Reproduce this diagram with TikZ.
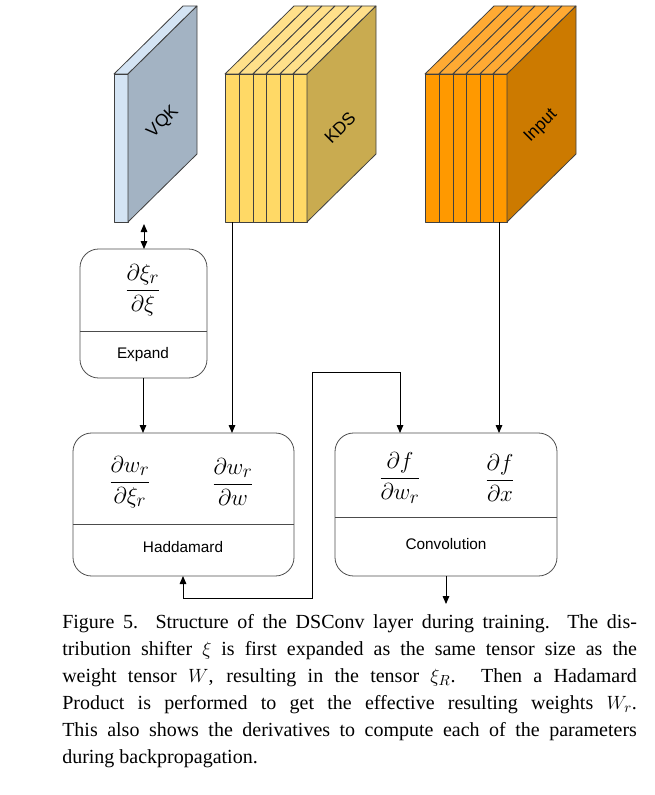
\documentclass[tikz,border=0pt]{standalone}
\usepackage{fontspec}
\setmainfont{Liberation Serif}
\newfontfamily\arialf{Liberation Sans}
\usetikzlibrary{arrows.meta}
\definecolor{vqkfront}{HTML}{D4E4F4}
\definecolor{vqkside}{HTML}{A3B3C3}
\definecolor{kdsfront}{HTML}{FFD966}
\definecolor{kdsside}{HTML}{C9AB50}
\definecolor{kdstop}{HTML}{FFE08A}
\definecolor{inpfront}{HTML}{FF9900}
\definecolor{inpside}{HTML}{CC7A00}
\definecolor{inptop}{HTML}{FFAA33}
\begin{document}
\begin{tikzpicture}[x=0.75pt,y=-0.75pt,
  face/.style={draw=black!75,line width=0.6pt,line join=round},
  box/.style={draw=black!70,line width=0.6pt,rounded corners=14pt},
  lbl/.style={font=\arialf\fontsize{11.5}{13}\selectfont},
  math/.style={font=\fontsize{19}{23}\selectfont},
  arr/.style={-{Triangle[length=6pt,width=5pt]},line width=0.7pt},
  tens/.style={font=\arialf\fontsize{13}{15}\selectfont,rotate=45,inner sep=0pt}]
\useasboundingbox (0,0) rectangle (655,795);
% VQK
\filldraw[face,fill=vqkfront] (114,74) rectangle (128,222);
\filldraw[face,fill=vqkfront] (114,74) -- (128,74) -- (197,6) -- (183,6) -- cycle;
\filldraw[face,fill=vqkside] (128,74) -- (197,6) -- (197,154) -- (128,222) -- cycle;
\node[tens] (vqk) at (163,122) {VQK};
% KDS
\foreach \a/\b in {225/239,239/253,253/266,266/280,280/293,293/307}{
  \filldraw[face,fill=kdsfront] (\a,74) rectangle (\b,222);
  \filldraw[face,fill=kdstop] (\a,74) -- (\b,74) -- (\b+69,6) -- (\a+69,6) -- cycle;}
\filldraw[face,fill=kdsside] (307,74) -- (376,6) -- (376,154) -- (307,222) -- cycle;
\node[tens] (kds) at (340,128) {KDS};
% Input
\foreach \a/\b in {425/439,439/453,453/466,466/480,480/493,493/507}{
  \filldraw[face,fill=inpfront] (\a,74) rectangle (\b,222);
  \filldraw[face,fill=inptop] (\a,74) -- (\b,74) -- (\b+69,6) -- (\a+69,6) -- cycle;}
\filldraw[face,fill=inpside] (507,74) -- (576,6) -- (576,154) -- (507,222) -- cycle;
\node[tens] (inp) at (541,126) {Input};
\coordinate (vqkb) at (144,224);
\coordinate (kdsb) at (232,222);
\coordinate (inpb) at (499,222);
% Expand
\draw[box] (80,249) rectangle (207,378);
\draw[black!70,line width=0.6pt] (80,331) -- (207,331);
\node[math] (fe) at (143,290) {$\displaystyle\frac{\partial\xi_r}{\partial\xi}$};
\node[lbl] (exp) at (143,355) {Expand};
\coordinate (expt) at (144,249);
\coordinate (expb) at (143,378);
% Haddamard
\draw[box] (73,433) rectangle (294,576);
\draw[black!70,line width=0.6pt] (73,524) -- (294,524);
\node[math] (h1) at (130,482) {$\displaystyle\frac{\partial w_r}{\partial\xi_r}$};
\node[math] (h2) at (233,482) {$\displaystyle\frac{\partial w_r}{\partial w}$};
\node[lbl] (had) at (183,547) {Haddamard};
% Convolution
\draw[box] (335,433) rectangle (557,576);
\draw[black!70,line width=0.6pt] (335,517) -- (557,517);
\node[math] (c1) at (400,478) {$\displaystyle\frac{\partial f}{\partial w_r}$};
\node[math] (c2) at (500,478) {$\displaystyle\frac{\partial f}{\partial x}$};
\node[lbl] (conv) at (446,544) {Convolution};
\coordinate (convb) at (446,576);
\coordinate (out) at (446,604);
% arrows
\draw[arr,{Triangle[length=6pt,width=5pt]}-{Triangle[length=6pt,width=5pt]}] (vqkb) -- (expt);
\draw[arr] (expb) -- (143,433);
\draw[arr] (kdsb) -- (232,433);
\draw[arr] (inpb) -- (499,433);
\draw[arr] (convb) -- (out);
\draw[arr,{Triangle[length=6pt,width=5pt]}-{Triangle[length=6pt,width=5pt]}] (183,576) -- (183,598) -- (312,598) -- (312,372) -- (400,372) -- (400,433);
% caption
\node[anchor=north west,inner sep=0pt,text width=431pt,align=justify,font=\fontsize{15}{20.3}\selectfont] (cap) at (62,614) {Figure 5. Structure of the DSConv layer during training. The dis-\linebreak tribution shifter $\xi$ is first expanded as the same tensor size as the\linebreak weight tensor $W$, resulting in the tensor $\xi_R$. Then a Hadamard\linebreak Product is performed to get the effective resulting weights $W_r$.\linebreak This also shows the derivatives to compute each of the parameters\linebreak during backpropagation.};
\end{tikzpicture}
\end{document}
